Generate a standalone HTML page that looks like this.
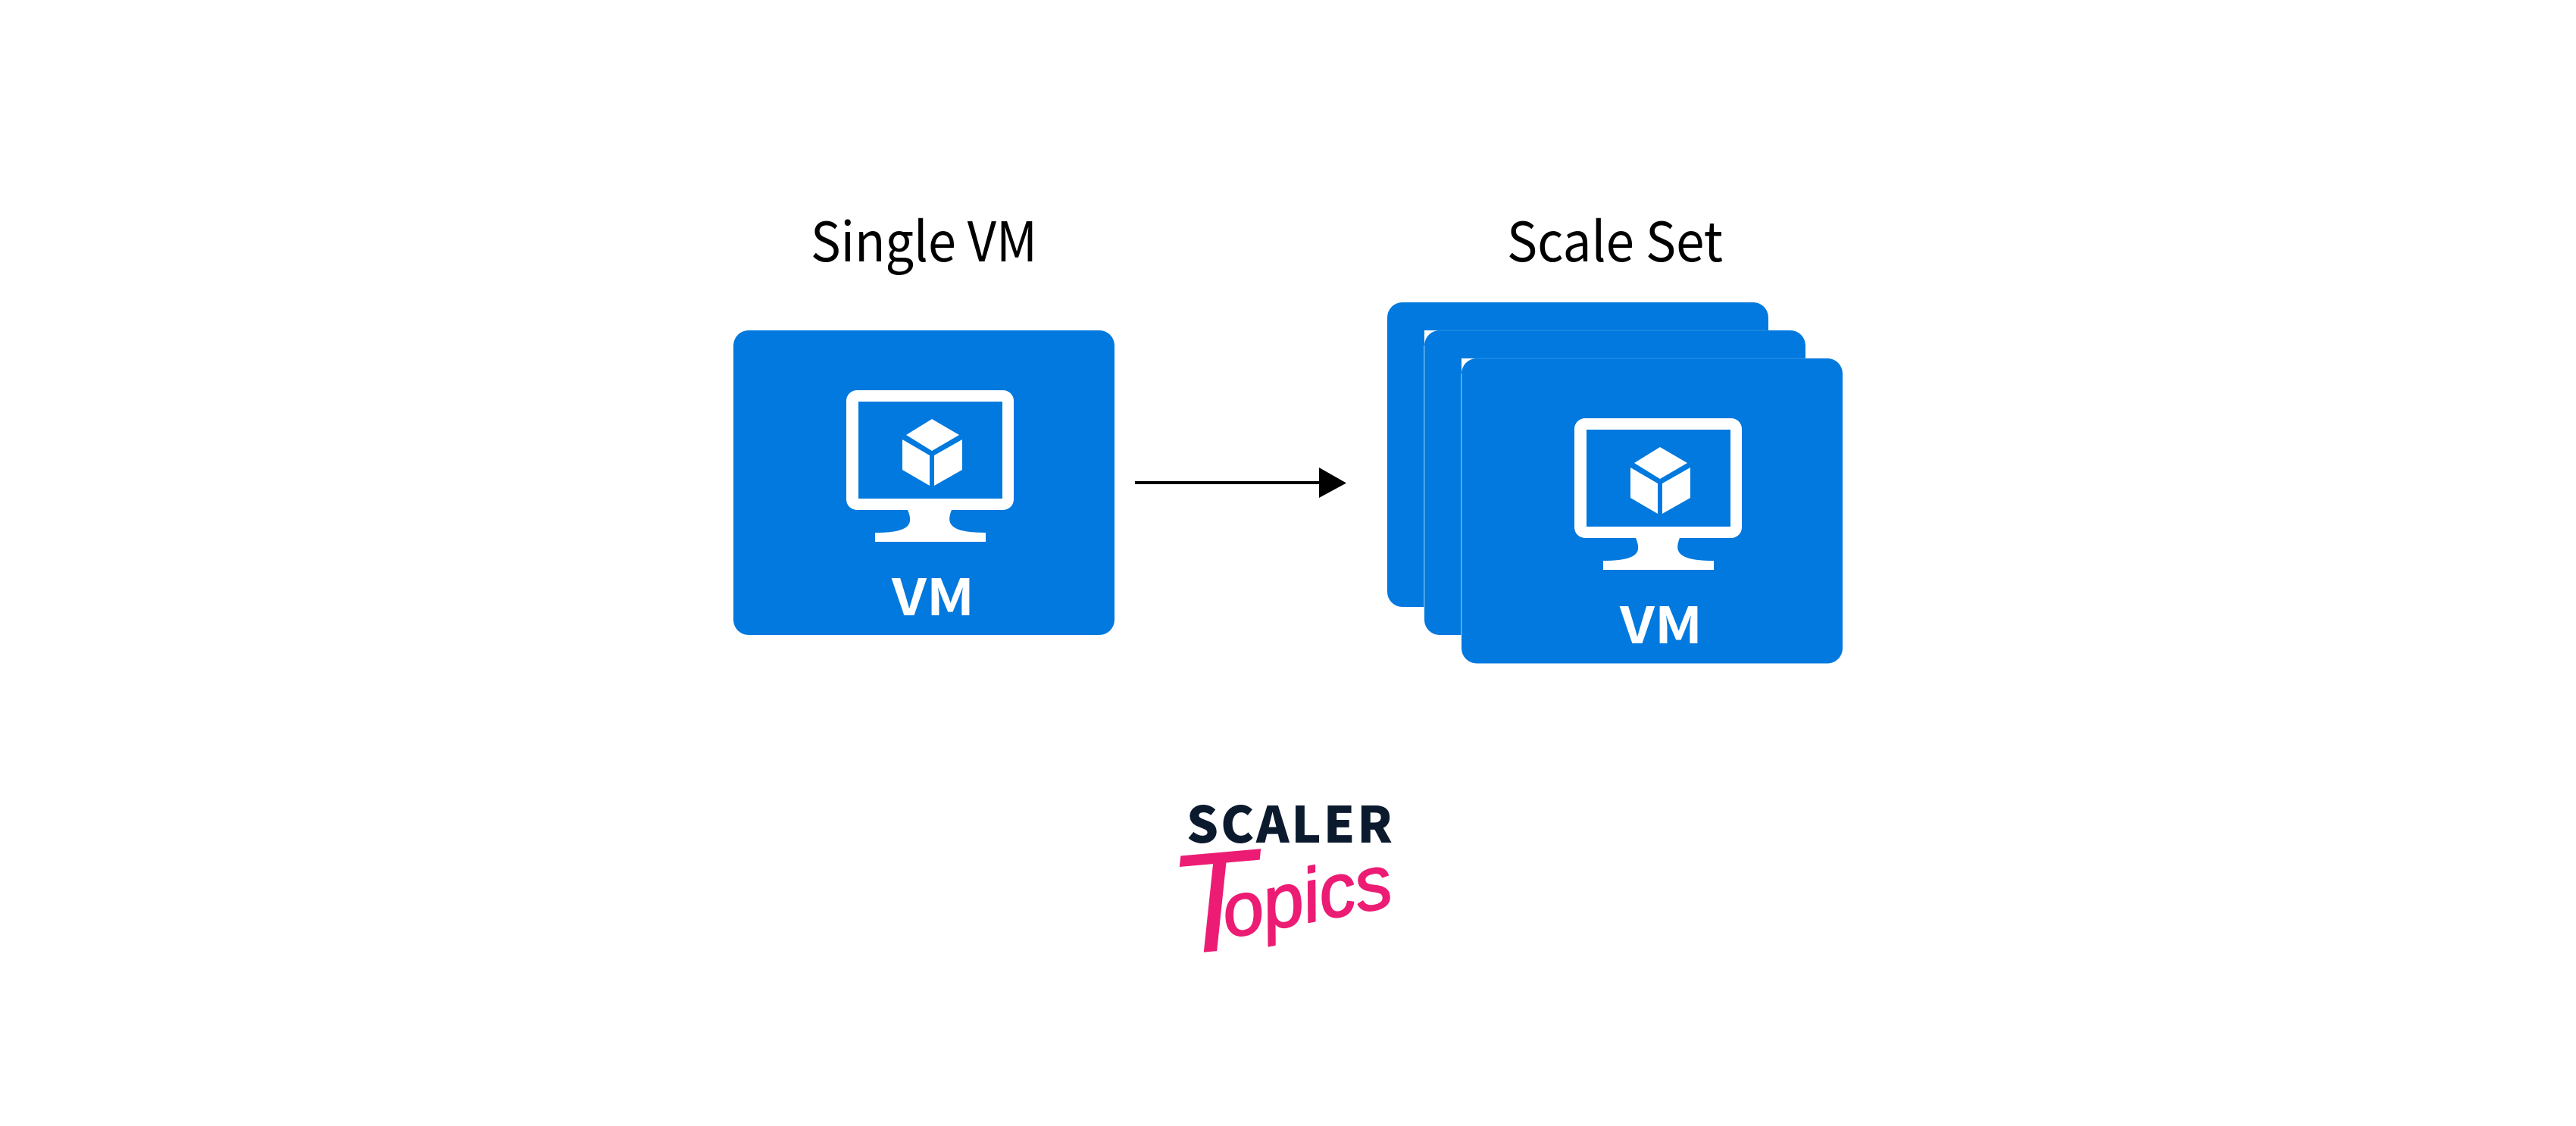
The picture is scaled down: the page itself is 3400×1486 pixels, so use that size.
<!DOCTYPE html>
<html>
<head>
<meta charset="utf-8">
<style>
html,body{margin:0;padding:0;background:#fff;width:3400px;height:1486px;overflow:hidden}
svg{display:block}
text{font-family:"Noto Sans CJK JP","Liberation Sans",sans-serif}
text.script{font-family:"Liberation Sans",sans-serif;font-style:italic;fill:#ec1c74;stroke:#ec1c74;stroke-linejoin:round}
</style>
</head>
<body>
<svg width="3400" height="1486" viewBox="0 0 3400 1486" xmlns="http://www.w3.org/2000/svg">
<defs>
  <g id="icon">
    <path fill="#fff" fill-rule="evenodd" d="M1131 515H1324a14 14 0 0 1 14 14V659a14 14 0 0 1-14 14H1256C1249 690 1252 703 1301 703V715H1155V703C1204 703 1205 690 1198 673H1131a14 14 0 0 1-14-14V529a14 14 0 0 1 14-14ZM1133 530V658H1323V530Z"/>
    <path fill="#fff" d="M1230 553L1266 574L1230 595L1196 574Z"/>
    <path fill="#fff" d="M1191 580L1227 601V641L1191 620Z"/>
    <path fill="#fff" d="M1233 601L1270 580V620L1233 641Z"/>
    <text x="1177" y="812" font-size="66" font-weight="700" fill="#fff" textLength="109" lengthAdjust="spacingAndGlyphs">VM</text>
  </g>
</defs>
<rect width="3400" height="1486" fill="#fff"/>

<text x="1070" y="345" font-size="72" fill="#000" textLength="299" lengthAdjust="spacingAndGlyphs">Single VM</text>
<text x="1989" y="345" font-size="72" fill="#000" textLength="285" lengthAdjust="spacingAndGlyphs">Scale Set</text>

<rect x="968" y="436" width="503" height="402" rx="20" fill="#0179de"/>
<use href="#icon"/>

<rect x="1498" y="635" width="245" height="4" fill="#000"/>
<path d="M1741 617L1777 637.5L1741 657Z" fill="#000"/>

<rect x="1831" y="399" width="503" height="402" rx="20" fill="#0179de"/>
<rect x="1880" y="436" width="20" height="20" fill="#fff"/>
<rect x="1880" y="436" width="503" height="402" rx="20" fill="#0179de"/>
<rect x="1929" y="473" width="20" height="20" fill="#fff"/>
<rect x="1929" y="473" width="503" height="402.5" rx="20" fill="#0179de"/>
<rect x="1879" y="456" width="1.5" height="345" fill="#6fb8f0"/>
<rect x="1928" y="493" width="1.5" height="345" fill="#6fb8f0"/>
<rect x="1900" y="435.5" width="433" height="1" fill="#2f92e4"/>
<rect x="1949" y="472.5" width="434" height="1" fill="#2f92e4"/>
<use href="#icon" transform="translate(961 37)"/>

<text x="1566" y="1112" font-size="66" font-weight="900" fill="#0c1a2e" textLength="272" lengthAdjust="spacing">SCALER</text>
<text class="script" transform="translate(1550 1260) rotate(-5)" font-size="188" stroke-width="0">T</text>
<text class="script" transform="translate(1620 1238) rotate(-11)" font-size="100" stroke-width="2" textLength="226" lengthAdjust="spacingAndGlyphs">opics</text>
</svg>
</body>
</html>
